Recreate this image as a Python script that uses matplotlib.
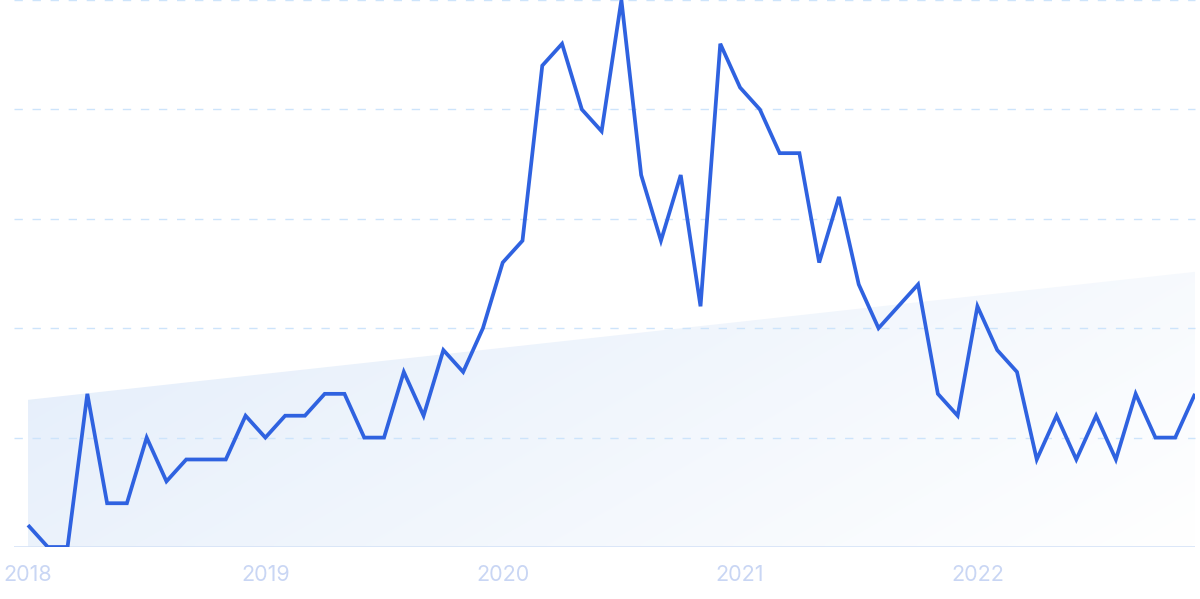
import matplotlib.pyplot as plt
import numpy as np
from matplotlib.patches import Polygon

# monthly values, Jan 2018 .. Dec 2022
values = [4, 0, 0, 28, 8, 8, 20, 12, 16, 16, 16, 24,
          20, 24, 24, 28, 28, 20, 20, 32, 24, 36, 32, 40,
          52, 56, 88, 92, 80, 76, 100, 68, 56, 68, 44, 92,
          84, 80, 72, 72, 52, 64, 48, 40, 44, 48, 28, 24,
          44, 36, 32, 16, 24, 16, 24, 16, 28, 20, 20, 28]
year_labels = ['2018', '2019', '2020', '2021', '2022']
trend_start = 26.9
trend_end = 50.3

line_color = '#2f62e0'
grid_color = '#cde4fb'
label_color = '#c9d6f4'

W, H = 1200, 599
fig = plt.figure(figsize=(W / 100, H / 100), dpi=100)
x0, x1, ybot = 14, 1195, 547
ax = fig.add_axes([x0 / W, (H - ybot) / H, (x1 - x0) / W, ybot / H])

n = len(values)
x = np.arange(n)
step = (1195 - 28) / (n - 1)
ax.set_xlim(-(28 - x0) / step, n - 1)
ax.set_ylim(0, 100)

# gradient-filled trend area
grad = np.zeros((100, 200, 4))
gx = np.linspace(0, 1, 200)[None, :]
gy = np.linspace(0, 1, 100)[:, None]  # 0 bottom .. 1 top
t = np.clip(0.55 * (1 - gx) + 0.45 * gy, 0, 1)
c0 = np.array([1.0, 1.0, 1.0])
c1 = np.array([0xdb, 0xe8, 0xf9]) / 255
for k in range(3):
    grad[..., k] = c0[k] + (c1[k] - c0[k]) * t
grad[..., 3] = 1
img = ax.imshow(grad, extent=[0, n - 1, 0, 100], origin='lower',
                aspect='auto', zorder=1, interpolation='bilinear')
poly = Polygon([(0, 0), (0, trend_start), (n - 1, trend_end), (n - 1, 0)],
               closed=True, facecolor='none', edgecolor='none')
ax.add_patch(poly)
img.set_clip_path(poly)

for g in [20, 40, 60, 80, 100]:
    ax.axhline(g, color=grid_color, lw=1, ls=(0, (6, 7)), zorder=2, clip_on=False)
ax.axhline(0, color='#d6e3f7', lw=1.2, zorder=2)

ax.plot(x, values, color=line_color, lw=2.7, zorder=3,
        solid_joinstyle='miter', solid_capstyle='butt')

ax.set_xticks(np.arange(0, n, 12))
ax.set_xticklabels(year_labels, color=label_color, fontsize=15.5, family='Inter')
ax.tick_params(axis='x', length=0, pad=13)
ax.set_yticks([])
for s in ax.spines.values():
    s.set_visible(False)
ax.set_facecolor('none')

fig.savefig('out.png', dpi=100)
